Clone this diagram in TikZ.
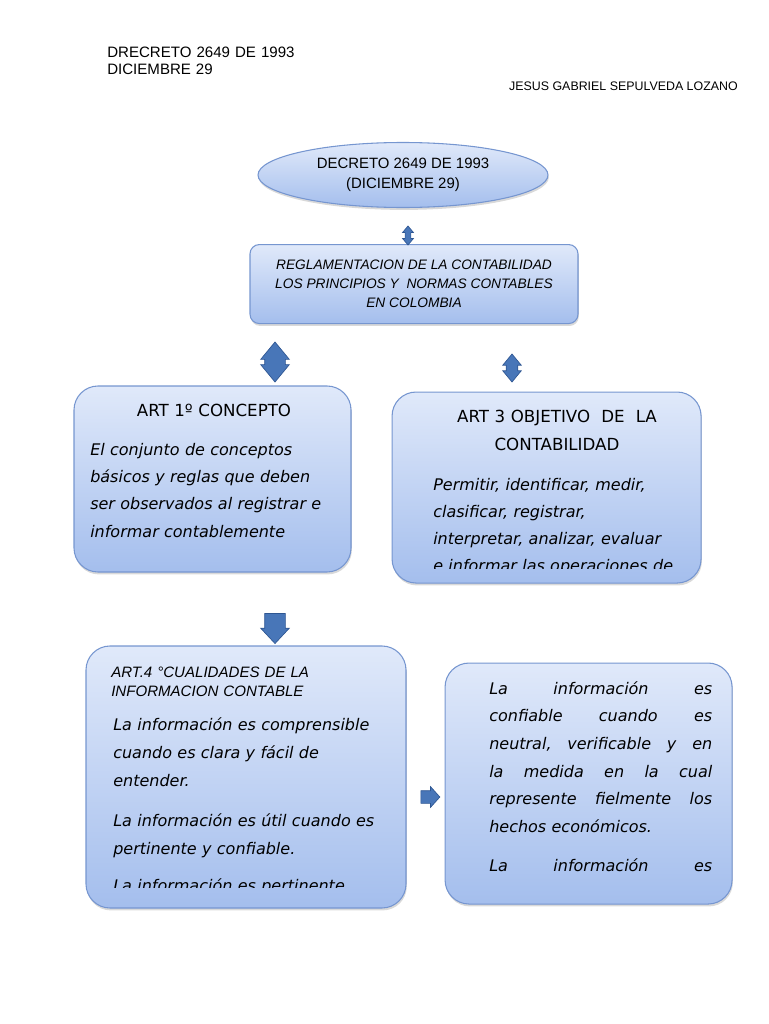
\documentclass[tikz,border=0pt]{standalone}
\usepackage{fontspec}
\setmainfont{Liberation Sans}
\newfontfamily\handfont{DejaVu Sans}
\usetikzlibrary{positioning, shapes.geometric, shapes.arrows, shadows}
\definecolor{boxtop}{RGB}{224,233,250}
\definecolor{boxbot}{RGB}{164,190,237}
\definecolor{boxline}{RGB}{118,150,208}
\definecolor{arrowfill}{RGB}{72,118,184}
\definecolor{arrowline}{RGB}{46,86,146}

\begin{document}
\begin{tikzpicture}[x=0.75pt, y=-0.75pt,
    box/.style={draw=boxline, line width=0.8pt, top color=boxtop, bottom color=boxbot,
        drop shadow={shadow xshift=0.6pt, shadow yshift=-1.8pt, opacity=0.3}},
    card/.style={box, rectangle, rounded corners=18pt, inner sep=0},
    hand/.style={font=\handfont\itshape\fontsize{12}{20.5}\selectfont, inner sep=0, align=left, anchor=base west},
    handtitle/.style={font=\handfont\fontsize{12.5}{21}\selectfont, inner sep=0, align=center, anchor=base},
    blockarrow/.style={fill=arrowfill, draw=arrowline, line width=0.5pt, inner xsep=0pt}]
    \useasboundingbox (0,0) rectangle (768,1024);

    \node[anchor=base west, inner sep=0, align=left, text width=200pt, font=\fontsize{11.3}{12.75}\selectfont] (encabezado) at (107,58) {DRECRETO 2649 DE 1993\\DICIEMBRE 29};
    \node[anchor=base east, inner sep=0, font=\fontsize{9.3}{11}\selectfont] (autor) at (738,90) {JESUS GABRIEL SEPULVEDA LOZANO};

    \node[box, ellipse, minimum width=217.5pt, minimum height=48.75pt, inner sep=0, align=center, font=\fontsize{11.2}{15}\selectfont] (decreto) at (403,175) {DECRETO 2649 DE 1993\\(DICIEMBRE 29)};
    \node[box, rectangle, rounded corners=7pt, minimum width=246pt, minimum height=59.25pt, align=center, font=\itshape\fontsize{10.3}{14.25}\selectfont] (reglam) [below=27pt of decreto, xshift=8.25pt] {REGLAMENTACION DE LA CONTABILIDAD\\LOS PRINCIPIOS Y \ NORMAS CONTABLES\\EN COLOMBIA};

    \node[card, minimum width=207.75pt, minimum height=139.5pt] (concepto) at (212.5,479) {};
    \node[card, minimum width=231.75pt, minimum height=143.25pt] (objetivo) [right=30pt of concepto, yshift=-6.4pt] {};
    \node[card, minimum width=240pt, minimum height=196.5pt] (cualidades) at (246,777) {};
    \node[card, minimum width=215.25pt, minimum height=180.75pt] (confiable) [right=28.5pt of cualidades, yshift=-4.9pt] {};

    \node[blockarrow, double arrow, rotate=90, minimum height=14.25pt, inner ysep=1.9pt, double arrow head extend=1.9pt, double arrow tip angle=80] (dbl0) at (408,235.5) {};
    \node[blockarrow, double arrow, rotate=90, minimum height=30pt, inner ysep=7.5pt, double arrow head extend=3pt, double arrow tip angle=79] (dbl1) at (275,362) {};
    \node[blockarrow, double arrow, rotate=90, minimum height=21pt, inner ysep=4.1pt, double arrow head extend=2.6pt, double arrow tip angle=79] (dbl2) at (512,368) {};
    \node[blockarrow, single arrow, rotate=-90, minimum height=22.5pt, inner ysep=7.5pt, single arrow head extend=3pt, single arrow tip angle=86] (abajo) at (275,623) {};
    \node[blockarrow, single arrow, minimum height=14.25pt, inner ysep=4.5pt, single arrow head extend=3pt, single arrow tip angle=96] (derecha) at (427.5,797) {};

    \node[handtitle, text width=180pt] (titulo1) at (214,416) {ART 1º CONCEPTO};
    \node[hand, text width=190pt] (texto1) at (90,455) {El conjunto de conceptos\\básicos y reglas que deben\\ser observados al registrar e\\informar contablemente};

    \node[handtitle, text width=200pt] (titulo2) at (557,422) {ART 3 OBJETIVO \ DE \ LA\\CONTABILIDAD};
    \begin{scope}
        \clip (391,392) rectangle (700,568);
        \node[hand, text width=200pt, font=\handfont\itshape\fontsize{12}{20.25}\selectfont] (texto2) at (433,490) {Permitir, identificar, medir,\\clasificar, registrar,\\interpretar, analizar, evaluar\\e informar las operaciones de};
    \end{scope}

    \node[anchor=base west, inner sep=0, align=left, text width=220pt, font=\itshape\fontsize{11.3}{14.25}\selectfont] (titulo3) at (111,677) {ART.4 °CUALIDADES DE LA\\INFORMACION CONTABLE};
    \begin{scope}
        \clip (86,646) rectangle (406,887);
        \node[hand, text width=225pt, font=\handfont\itshape\fontsize{12}{21}\selectfont] (texto3) at (113,730) {La información es comprensible\\cuando es clara y fácil de\\entender.\\[9pt]La información es útil cuando es\\pertinente y confiable.\\[6.75pt]La información es pertinente};
    \end{scope}

    \node[hand, text width=167.25pt, font=\handfont\itshape\fontsize{12}{20.8}\selectfont] (texto4) at (489,694) {La\hfill información\hfill es\\confiable\hfill cuando\hfill es\\neutral,\hfill verificable\hfill y\hfill en\\la\hfill medida\hfill en\hfill la\hfill cual\\represente\hfill fielmente\hfill los\\hechos económicos.\\[8.25pt]La\hfill información\hfill es};
\end{tikzpicture}
\end{document}
